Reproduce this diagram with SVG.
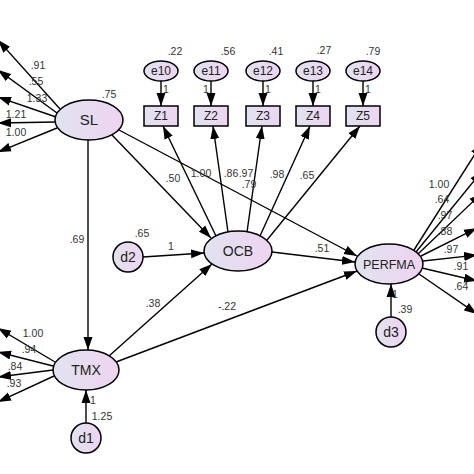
<svg xmlns="http://www.w3.org/2000/svg" width="474" height="474" viewBox="0 0 474 474">
<defs>
<linearGradient id="g" x1="0" y1="0" x2="1" y2="0">
<stop offset="0" stop-color="#e0e3f0"/>
<stop offset="1" stop-color="#eed4f0"/>
</linearGradient>
<marker id="ar" markerUnits="userSpaceOnUse" markerWidth="14" markerHeight="10" refX="13" refY="4.5" orient="auto" viewBox="0 0 14 9">
<path d="M0,0 L13,4.5 L0,9 z" fill="#000"/>
</marker>
<style>
.n{fill:url(#g);stroke:#000;stroke-width:1.5}
.c line{stroke:#000;stroke-width:1.4;marker-end:url(#ar)}
.t{font-family:"Liberation Sans",Arial,sans-serif;fill:#222;text-anchor:middle}
.big{font-size:15px}
.mid{font-size:14px}
.pf{font-size:12.5px}
.sm{font-size:12px}
.v{font-family:"Liberation Sans",Arial,sans-serif;font-size:10.5px;fill:#333;text-anchor:middle}
</style>
</defs>
<rect width="474" height="474" fill="#fff"/>
<g id="connectors" class="c">
<line x1="60" y1="109" x2="-2" y2="40"/>
<line x1="57" y1="113" x2="-2" y2="70"/>
<line x1="56" y1="117" x2="-2" y2="97"/>
<line x1="55" y1="122" x2="-2" y2="123"/>
<line x1="57" y1="128" x2="-2" y2="152"/>
<line x1="112" y1="135" x2="211" y2="238"/>
<line x1="119" y1="130" x2="357" y2="256"/>
<line x1="88" y1="140" x2="88" y2="350"/>
<line x1="161" y1="81" x2="161" y2="106"/>
<line x1="211" y1="81" x2="211" y2="106"/>
<line x1="263" y1="81" x2="263" y2="106"/>
<line x1="313" y1="81" x2="313" y2="106"/>
<line x1="363" y1="81" x2="363" y2="106"/>
<line x1="216" y1="236" x2="163" y2="126"/>
<line x1="228" y1="232" x2="213" y2="126"/>
<line x1="247" y1="232" x2="262" y2="126"/>
<line x1="260" y1="236" x2="310" y2="126"/>
<line x1="267" y1="240" x2="360" y2="126"/>
<line x1="143" y1="257" x2="204" y2="253"/>
<line x1="109" y1="356" x2="212" y2="264"/>
<line x1="116" y1="362" x2="357" y2="271"/>
<line x1="272" y1="252" x2="355" y2="262"/>
<line x1="55" y1="362" x2="-2" y2="328"/>
<line x1="53" y1="366" x2="-2" y2="352"/>
<line x1="53" y1="370" x2="-2" y2="377"/>
<line x1="54" y1="376" x2="-2" y2="402"/>
<line x1="86" y1="423" x2="86" y2="390"/>
<line x1="391" y1="317" x2="391" y2="284"/>
<line x1="414" y1="250" x2="482" y2="143"/>
<line x1="416" y1="252" x2="482" y2="171"/>
<line x1="418" y1="254" x2="482" y2="193"/>
<line x1="421" y1="256" x2="477" y2="228"/>
<line x1="423" y1="261" x2="477" y2="255"/>
<line x1="422" y1="268" x2="477" y2="281"/>
<line x1="419" y1="274" x2="477" y2="314"/>
</g>
<g id="SL"><ellipse class="n" cx="89" cy="120" rx="34" ry="20"/><text class="t big" x="89" y="125">SL</text></g>
<g id="OCB"><ellipse class="n" cx="238" cy="251" rx="34" ry="20"/><text class="t mid" x="238" y="256">OCB</text></g>
<g id="TMX"><ellipse class="n" cx="86" cy="370" rx="33" ry="20"/><text class="t mid" x="86" y="375">TMX</text></g>
<g id="PERFMA"><ellipse class="n" cx="389" cy="264" rx="34" ry="20"/><text class="t pf" x="389" y="269">PERFMA</text></g>
<g id="d1"><circle class="n" cx="86" cy="438" r="15"/><text class="t mid" x="86" y="443">d1</text></g>
<g id="d2"><circle class="n" cx="128" cy="257" r="15"/><text class="t mid" x="128" y="262">d2</text></g>
<g id="d3"><circle class="n" cx="391" cy="332" r="15"/><text class="t mid" x="391" y="337">d3</text></g>
<g id="e10"><ellipse class="n" cx="161" cy="71" rx="17" ry="10"/><text class="t sm" x="161" y="75">e10</text></g>
<g id="e11"><ellipse class="n" cx="211" cy="71" rx="17" ry="10"/><text class="t sm" x="211" y="75">e11</text></g>
<g id="e12"><ellipse class="n" cx="263" cy="71" rx="17" ry="10"/><text class="t sm" x="263" y="75">e12</text></g>
<g id="e13"><ellipse class="n" cx="313" cy="71" rx="17" ry="10"/><text class="t sm" x="313" y="75">e13</text></g>
<g id="e14"><ellipse class="n" cx="363" cy="71" rx="17" ry="10"/><text class="t sm" x="363" y="75">e14</text></g>
<g id="Z1"><rect class="n" x="144" y="106" width="34" height="20"/><text class="t sm" x="161" y="120">Z1</text></g>
<g id="Z2"><rect class="n" x="194" y="106" width="34" height="20"/><text class="t sm" x="211" y="120">Z2</text></g>
<g id="Z3"><rect class="n" x="246" y="106" width="34" height="20"/><text class="t sm" x="263" y="120">Z3</text></g>
<g id="Z4"><rect class="n" x="296" y="106" width="34" height="20"/><text class="t sm" x="313" y="120">Z4</text></g>
<g id="Z5"><rect class="n" x="346" y="106" width="34" height="20"/><text class="t sm" x="363" y="120">Z5</text></g>
<g id="labels">
<text class="v" x="38" y="69">.91</text>
<text class="v" x="36" y="85">.55</text>
<text class="v" x="37" y="102">1.33</text>
<text class="v" x="16" y="118">1.21</text>
<text class="v" x="16" y="136">1.00</text>
<text class="v" x="109" y="98">.75</text>
<text class="v" x="175" y="55">.22</text>
<text class="v" x="228" y="55">.56</text>
<text class="v" x="276" y="55">.41</text>
<text class="v" x="324" y="54">.27</text>
<text class="v" x="373" y="55">.79</text>
<text class="v" x="166" y="93">1</text>
<text class="v" x="206" y="93">1</text>
<text class="v" x="268" y="93">1</text>
<text class="v" x="318" y="93">1</text>
<text class="v" x="368" y="93">1</text>
<text class="v" x="173" y="182">.50</text>
<text class="v" x="201" y="177">1.00</text>
<text class="v" x="231" y="177">.86</text>
<text class="v" x="246" y="177">.97</text>
<text class="v" x="249" y="188">.79</text>
<text class="v" x="277" y="178">.98</text>
<text class="v" x="307" y="179">.65</text>
<text class="v" x="142" y="237">.65</text>
<text class="v" x="171" y="250">1</text>
<text class="v" x="77" y="243">.69</text>
<text class="v" x="153" y="307">.38</text>
<text class="v" x="227" y="310">-.22</text>
<text class="v" x="322" y="252">.51</text>
<text class="v" x="33" y="337">1.00</text>
<text class="v" x="29" y="353">.94</text>
<text class="v" x="15" y="370">.84</text>
<text class="v" x="14" y="387">.93</text>
<text class="v" x="93" y="404">1</text>
<text class="v" x="102" y="420">1.25</text>
<text class="v" x="395" y="298">1</text>
<text class="v" x="405" y="313">.39</text>
<text class="v" x="439" y="188">1.00</text>
<text class="v" x="442" y="203">.64</text>
<text class="v" x="445" y="219">.97</text>
<text class="v" x="445" y="235">.88</text>
<text class="v" x="451" y="253">.97</text>
<text class="v" x="461" y="270">.91</text>
<text class="v" x="461" y="290">.64</text>
</g>
</svg>
